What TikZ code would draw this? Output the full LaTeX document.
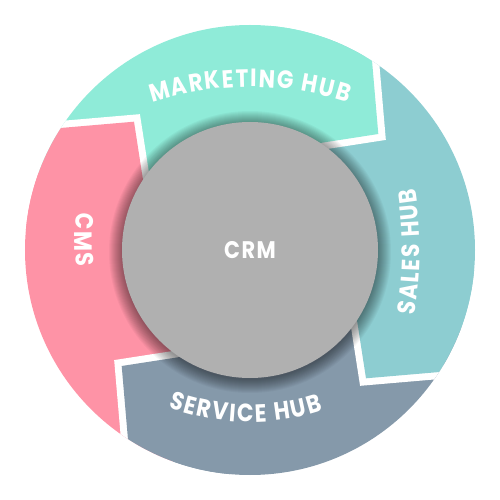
\documentclass[tikz,border=0pt]{standalone}
\usepackage{fontspec}
\newfontfamily\hubfont{Poppins}[FakeStretch=0.87]
\usetikzlibrary{decorations.text,calc}
\definecolor{cmsPink}{RGB}{254,147,166}
\definecolor{mktMint}{RGB}{143,235,216}
\definecolor{salesTeal}{RGB}{141,205,209}
\definecolor{servSlate}{RGB}{133,153,170}
\definecolor{crmGray}{RGB}{176,176,176}

\begin{document}
\begin{tikzpicture}[x=1pt, y=1pt,
    hub text/.style={decorate, decoration={text along path, text align=fit to path,
        text={|\hubfont\bfseries\fontsize{25}{29}\selectfont\color{white}|#1}}},
    cap edge/.style={white, line width=14pt, miter limit=10}]
\useasboundingbox (-250,-250) rectangle (250,250);

\begin{scope}
\clip (0,0) circle[radius=225pt];
% ring sectors
\fill[cmsPink]   (0,0) -- (160:300) arc[start angle=160, end angle=250, radius=300pt] -- cycle;
\fill[servSlate] (0,0) -- (250:300) arc[start angle=250, end angle=340, radius=300pt] -- cycle;
\fill[salesTeal] (0,0) -- (-20:300) arc[start angle=-20, end angle=70, radius=300pt] -- cycle;
\fill[mktMint]   (0,0) -- (70:300) arc[start angle=70, end angle=160, radius=300pt] -- cycle;
% overlapping ends
\foreach \k/\col in {0/cmsPink,1/mktMint,2/salesTeal,3/servSlate}{
  \begin{scope}[rotate=-90*\k]
    \coordinate (tip) at (-116,128.3);
    \path (tip) ++(184.9:130) coordinate (tipout);
    \path (tip) ++(278.8:110) coordinate (tipin);
    \draw[cap edge] (tipout) -- (tip) -- (tipin);
    \fill[\col] (0,0) -- (175:300) -- (tipout) -- (tip) -- (tipin) -- cycle;
  \end{scope}
}
\end{scope}

% shadow and centre
\foreach \i in {1,...,14}
  \fill[black, opacity=0.035] (0,-2) circle[radius={127pt+\i*1pt}];
\node[circle, fill=crmGray, minimum size=256pt, inner sep=0pt, text=white,
  font=\hubfont\bfseries\fontsize{24}{28}\selectfont\addfontfeatures{LetterSpace=6}] (crm) at (0,0) {CRM};

% labels
\path[hub text={MARKETING HUB}] ($(0,-157)+(107.8:320)$) arc[start angle=107.8, end angle=72.2, radius=320pt];
\path[hub text={SALES HUB}] ($(-230,0)+(-9.4:400)$) arc[start angle=-9.4, end angle=8.9, radius=400pt];
\path[hub text={SERVICE HUB}] ($(0,63)+(249.6:235)$) arc[start angle=249.6, end angle=288.1, radius=235pt];
\path[hub text={CMS}] ($(75,10)+(173.8:250)$) arc[start angle=173.8, end angle=186.2, radius=250pt];
\end{tikzpicture}
\end{document}
